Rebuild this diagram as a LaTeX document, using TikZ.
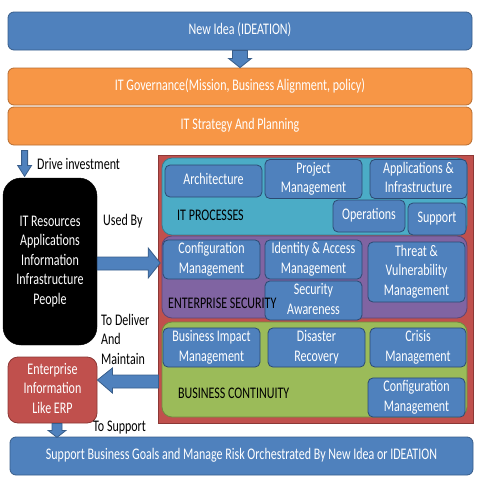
\documentclass[tikz,border=0pt]{standalone}
\usepackage{fontspec}
\setmainfont{Carlito}
\usepackage{graphicx}
\usetikzlibrary{calc}
\definecolor{obBlue}{HTML}{4F81BD}
\definecolor{obBlueD}{HTML}{385D8A}
\definecolor{obInD}{HTML}{2C4A72}
\definecolor{obOrange}{HTML}{F79646}
\definecolor{obOrangeD}{HTML}{B66D31}
\definecolor{obCyan}{HTML}{4BACC6}
\definecolor{obCyanD}{HTML}{357D91}
\definecolor{obPurple}{HTML}{8064A2}
\definecolor{obPurpleD}{HTML}{5C4776}
\definecolor{obGreen}{HTML}{9BBB59}
\definecolor{obGreenD}{HTML}{71893F}
\definecolor{obRed}{HTML}{C0504D}
\definecolor{obRedD}{HTML}{8C3836}
\newcommand{\tx}[1]{\scalebox{1}[1.35]{\begin{tabular}{@{}c@{}}#1\end{tabular}}}
\newcommand{\txl}[1]{\scalebox{1}[1.35]{\begin{tabular}{@{}l@{}}#1\end{tabular}}}
\begin{document}
\begin{tikzpicture}[x=1pt,y=-1pt,font=\fontsize{12}{14.5}\selectfont,
  bar/.style={draw=#1D, fill=#1, rounded corners=6pt, line width=0.8pt, text=white, inner sep=0pt},
  area/.style={draw=#1D, fill=#1, rounded corners=10pt, line width=0.8pt, inner sep=0pt},
  inbox/.style={draw=obInD, fill=obBlue, rounded corners=5pt, line width=0.8pt, text=white, inner sep=0pt},
  lbl/.style={inner sep=0pt, text=black},
  barrow/.style={draw=obBlueD, fill=obBlue, line width=0.8pt, line join=miter}]
\useasboundingbox (0,0) rectangle (480,480);
% top bars
\node[bar=obBlue, minimum width=464pt, minimum height=38pt] (idea) at (240,31) {\tx{New Idea (IDEATION)}};
\node[bar=obOrange, minimum width=464pt, minimum height=37pt] (gov) at (240,86.5) {\tx{IT Governance(Mission, Business Alignment, policy)}};
\node[bar=obOrange, minimum width=464pt, minimum height=38pt] (strat) at (240,126) {\tx{IT Strategy And Planning}};
% resources
\node[draw=black, fill=black, rounded corners=18pt, minimum width=94pt, minimum height=167pt, text=white, inner sep=0pt] (res) at (50,261.5) {\raisebox{10pt}{\tx{IT Resources\\Applications\\Information\\Infrastructure\\People}}};
% enterprise container
\node[draw=obRedD, fill=obRed, line width=0.8pt, minimum width=315pt, minimum height=268pt, inner sep=0pt] (ent) at (315.5,289) {};
\node[area=obCyan, minimum width=305pt, minimum height=77pt] (itp) at (314.5,196.5) {};
\node[area=obPurple, minimum width=305pt, minimum height=82pt] (sec) at (314.5,277) {};
\node[area=obGreen, minimum width=305pt, minimum height=95pt] (bc) at (314.5,369.5) {};
% IT processes
\node[inbox, minimum width=97pt, minimum height=32pt] (arch) at (213.5,181) {\tx{Architecture}};
\node[inbox, minimum width=97pt, minimum height=32pt] (proj) at (313.5,179) {\tx{Project\\Management}};
\node[inbox, minimum width=97pt, minimum height=32pt] (apps) at (418.5,179) {\tx{Applications \&\\Infrastructure}};
\node[inbox, minimum width=72pt, minimum height=32pt] (ops) at (369,216) {\tx{Operations}};
\node[inbox, minimum width=58pt, minimum height=32pt] (supp) at (437,219) {\tx{Support}};
\node[lbl] (itpl) at (210.5,217) {\tx{IT PROCESSES}};
% enterprise security
\node[inbox, minimum width=97pt, minimum height=37pt] (conf1) at (211.5,259.5) {\tx{Configuration\\Management}};
\node[inbox, minimum width=97pt, minimum height=35pt] (iam) at (313.5,259.5) {\tx{Identity \& Access\\Management}};
\node[inbox, minimum width=97pt, minimum height=60pt] (thr) at (416.5,272) {\tx{Threat \&\\Vulnerability\\Management}};
\node[inbox, minimum width=97pt, minimum height=35pt] (saw) at (313.5,300.5) {\tx{Security\\Awareness}};
\node[lbl, anchor=west] (secl) at (168,305) {\tx{ENTERPRISE SECURITY}};
% business continuity
\node[inbox, minimum width=97pt, minimum height=39pt] (bim) at (211.5,347.5) {\tx{Business Impact\\Management}};
\node[inbox, minimum width=97pt, minimum height=39pt] (dr) at (316.5,347.5) {\tx{Disaster\\Recovery}};
\node[inbox, minimum width=96pt, minimum height=39pt] (cm) at (418,347.5) {\tx{Crisis\\Management}};
\node[inbox, minimum width=97pt, minimum height=35pt] (conf2) at (416.5,397.5) {\tx{Configuration\\Management}};
\node[lbl, anchor=west] (bcl) at (178,395) {\tx{BUSINESS CONTINUITY}};
% enterprise information
\node[draw=obRedD, fill=obRed, rounded corners=10pt, line width=0.8pt, minimum width=89pt, minimum height=66pt, text=white, inner sep=0pt] (eib) at (52.5,390) {\tx{Enterprise\\Information\\Like ERP}};
% goal
\node[bar=obBlue, minimum width=463pt, minimum height=38pt] (goal) at (241.5,456) {\tx{Support Business Goals and Manage Risk Orchestrated By New Idea or IDEATION}};
% labels
\node[lbl, anchor=west] (drive) at (37,166) {\tx{Drive investment}};
\node[lbl, anchor=west] (used) at (103,222) {\tx{Used By}};
\node[lbl, anchor=west] (deliver) at (101,341) {\txl{To Deliver\\And\\Maintain}};
\node[lbl, anchor=west] (tosup) at (93,428) {\tx{To Support}};
% block arrows
\draw[barrow] ($(idea.south)+(-7.5,0)$) -- ($(idea.south)+(-7.5,8)$) -- ($(idea.south)+(-11.5,8)$) -- (gov.north) -- ($(idea.south)+(11.5,8)$) -- ($(idea.south)+(7.5,8)$) -- ($(idea.south)+(7.5,0)$) -- cycle;
\draw[barrow] ($(strat.south west)+(14,5)$) -- ($(strat.south west)+(14,20)$) -- ($(strat.south west)+(10,20)$) -- ($(strat.south west)+(17,31)$) -- ($(strat.south west)+(24,20)$) -- ($(strat.south west)+(20,20)$) -- ($(strat.south west)+(20,5)$) -- cycle;
\draw[barrow] ($(res.east)+(0,-4.5)$) -- ($(res.east)+(51,-4.5)$) -- ($(res.east)+(51,-13.5)$) -- ($(res.east)+(63,1.5)$) -- ($(res.east)+(51,16.5)$) -- ($(res.east)+(51,8.5)$) -- ($(res.east)+(0,8.5)$) -- cycle;
\draw[barrow] ($(eib.east)+(61,-15)$) -- ($(eib.east)+(15,-15)$) -- ($(eib.east)+(15,-22)$) -- ($(eib.east)+(0,-10)$) -- ($(eib.east)+(15,3)$) -- ($(eib.east)+(15,-2)$) -- ($(eib.east)+(61,-2)$) -- cycle;
\draw[barrow] ($(eib.south)+(-0.5,0)$) -- ($(eib.south)+(-0.5,7)$) -- ($(eib.south)+(-4.5,7)$) -- ($(eib.south)+(4.5,14)$) -- ($(eib.south)+(13.5,7)$) -- ($(eib.south)+(9.5,7)$) -- ($(eib.south)+(9.5,0)$) -- cycle;
\end{tikzpicture}
\end{document}
